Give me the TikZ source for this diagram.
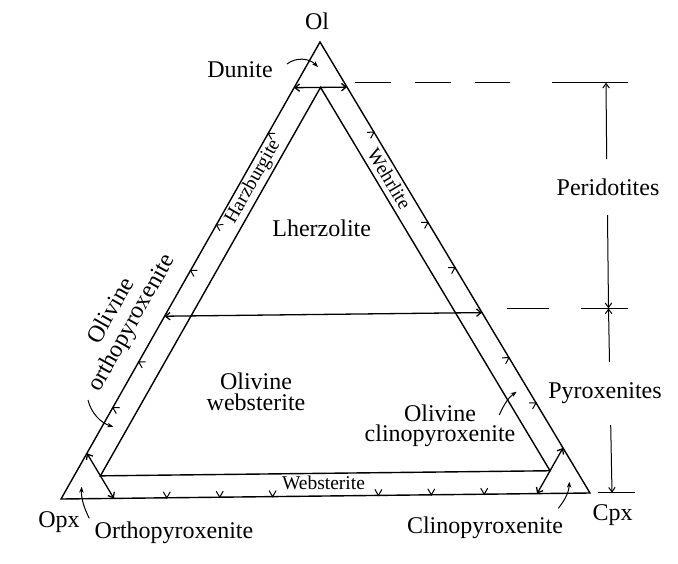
\documentclass[tikz,border=0pt]{standalone}
\usepackage{fontspec}
\setmainfont{Liberation Serif}
\usetikzlibrary{arrows.meta}
\begin{document}
\begin{tikzpicture}[x=1pt,y=-1pt,
  edge/.style={line width=1.4pt, line join=miter},
  barb/.style={line width=1.3pt, >={Straight Barb[length=4.5pt,width=7.5pt]}},
  tickm/.style={line width=1pt},
  lbl/.style={font=\fontsize{24}{21.5}\selectfont, inner sep=0pt},
  slbl/.style={font=\fontsize{19.5}{21}\selectfont, inner sep=0pt},
  lead/.style={line width=1pt, -{Stealth[length=6pt,width=4.5pt]}},
  dim/.style={line width=1pt, >={Straight Barb[length=4.5pt,width=6.5pt]}},
]
\useasboundingbox (0,0) rectangle (678,563);
\fill[white] (0,0) rectangle (678,563);
% corners
\coordinate (A) at (320,42);
\coordinate (B) at (61,499);
\coordinate (C) at (590,493);
% inner triangle
\coordinate (Ia) at (barycentric cs:A=0.9,B=0.05,C=0.05);
\coordinate (Ib) at (barycentric cs:A=0.05,B=0.9,C=0.05);
\coordinate (Ic) at (barycentric cs:A=0.05,B=0.05,C=0.9);
% boundary lines
\coordinate (D1) at (barycentric cs:A=0.9,B=0.1);
\coordinate (D2) at (barycentric cs:A=0.9,C=0.1);
\coordinate (P1) at (barycentric cs:A=0.4,B=0.6);
\coordinate (P2) at (barycentric cs:A=0.4,C=0.6);
\coordinate (O1) at (barycentric cs:A=0.1,B=0.9);
\coordinate (O2) at (barycentric cs:B=0.9,C=0.1);
\coordinate (C1) at (barycentric cs:A=0.1,C=0.9);
\coordinate (C2) at (barycentric cs:B=0.1,C=0.9);

\draw[edge] (A) -- (B) -- (C) -- cycle;
\draw[edge] (Ia) -- (Ib) -- (Ic) -- cycle;
\draw[barb,<->] (D1) -- (D2);
\draw[barb,<->] (P1) -- (P2);
\draw[barb,<->] (O1) -- (O2);
\draw[barb,<->] (C1) -- (C2);

% tick marks
\foreach \t/\u in {0.8/0.2,0.6/0.4,0.5/0.5,0.3/0.7,0.2/0.8}{
  \coordinate (tl) at (barycentric cs:A=\t,B=\u);
  \draw[tickm, shift={(tl)}, rotate=150.5] (-6,3.5) -- (0,0) -- (-6,-3.5);
  \coordinate (tr) at (barycentric cs:A=\t,C=\u);
  \draw[tickm, shift={(tr)}, rotate=30.9] (-6,3.5) -- (0,0) -- (-6,-3.5);
}
\foreach \t/\u in {0.8/0.2,0.7/0.3,0.6/0.4,0.4/0.6,0.3/0.7,0.2/0.8}{
  \coordinate (tb) at (barycentric cs:B=\t,C=\u);
  \draw[tickm, shift={(tb)}, rotate=-90] (-6,3.5) -- (0,0) -- (-6,-3.5);
}

% right-hand scale
\draw[dim, dash pattern=on 36pt off 24pt] (355,82.7) -- (510,82.7);
\draw[dim] (552,82.7) -- (628,82.7);
\draw[dim] (507,308.3) -- (549,308.3);
\draw[dim] (581,308.3) -- (628,308.3);
\draw[dim] (598,492.7) -- (635,492.7);
\coordinate (s1) at (606,82.7);
\coordinate (s2) at (606.7,159);
\coordinate (s3) at (607.5,215);
\coordinate (s4) at (608.5,308.3);
\coordinate (s5) at (609.5,362);
\coordinate (s6) at (610.7,425);
\coordinate (s7) at (612,492.7);
\draw[dim,->] (s2) -- (s1);
\draw[dim,->] (s3) -- (s4);
\draw[dim,->] (s5) -- (s4);
\draw[dim,->] (s6) -- (s7);

% labels
\node[lbl, anchor=base] (ol) at (317,29) {Ol};
\node[lbl, anchor=base] (opx) at (59,527) {Opx};
\node[lbl, anchor=base] (cpx) at (612.5,520.7) {Cpx};
\node[lbl, anchor=base] (dun) at (240,77) {Dunite};
\node[lbl, anchor=base] (lhz) at (321.7,236.7) {Lherzolite};
\node[lbl, anchor=base] (per) at (608,195) {Peridotites};
\node[lbl, anchor=base] (pyr) at (605,398.3) {Pyroxenites};
\node[lbl, anchor=base] (orth) at (174,538.3) {Orthopyroxenite};
\node[lbl, anchor=base] (clin) at (485,533.3) {Clinopyroxenite};
\node[lbl, anchor=base] (ow1) at (256,389.5) {Olivine};
\node[lbl, anchor=base] (ow2) at (256,410.5) {websterite};
\node[lbl, anchor=base] (oc1) at (440,421) {Olivine};
\node[lbl, anchor=base] (oc2) at (440,441.7) {clinopyroxenite};
\node[lbl, anchor=base, rotate=60.4] (oo1) at (116.8,314.2) {Olivine};
\node[lbl, anchor=base, rotate=60.4] (oo2) at (137,326) {orthopyroxenite};
\node[slbl, rotate=60.4] (hz) at (253.3,181.7) {Harzburgite};
\node[slbl, rotate=-59.1] (wh) at (389.5,179) {Wehrlite};
\node[slbl, anchor=base] (web) at (323.5,489.3) {Websterite};

% leaders
\coordinate (dunS) at (287,64);   \coordinate (dunE) at (318,67);
\coordinate (ooS) at (88,400);    \coordinate (ooE) at (113.3,426.7);
\coordinate (orS) at (89.3,518.3); \coordinate (orE) at (81.7,486.7);
\coordinate (clS) at (558.3,508.3); \coordinate (clE) at (569.3,481.7);
\coordinate (ocS) at (499.3,415); \coordinate (ocE) at (516.7,391.7);
\draw[lead] (dunS) .. controls (296,57) and (309,58) .. (dunE);
\draw[lead] (ooS) .. controls (91,413) and (101,423) .. (ooE);
\draw[lead] (orS) .. controls (84,508) and (81,498) .. (orE);
\draw[lead] (clS) .. controls (565,500) and (569,492) .. (clE);
\draw[lead] (ocS) .. controls (504,404) and (509,397) .. (ocE);
\end{tikzpicture}
\end{document}
